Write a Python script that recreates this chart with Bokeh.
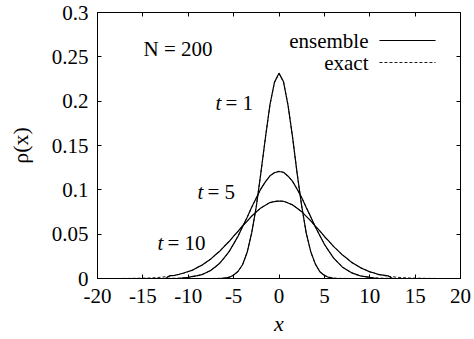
import numpy as np
from bokeh.plotting import figure
from bokeh.models import Range1d, LinearAxis, FixedTicker, Label
from bokeh.embed import file_html
from bokeh.resources import INLINE

# ---- data ----
x = np.arange(-20, 20.5, 0.5)

exact_t1 = [0.0] * 26 + [0.0001, 0.0002, 0.0006, 0.0015, 0.0036, 0.0079, 0.0161, 0.0300, 0.0515,
                         0.0815, 0.1186, 0.1588, 0.1955, 0.2216, 0.2310, 0.2216, 0.1955, 0.1588,
                         0.1186, 0.0815, 0.0515, 0.0300, 0.0161, 0.0079, 0.0036, 0.0015, 0.0006,
                         0.0002, 0.0001] + [0.0] * 26
ens_t1 = [0.0] * 27 + [0.0, 0.0004, 0.0012, 0.0040, 0.0082, 0.0158, 0.0298, 0.0520, 0.0812, 0.1190,
                       0.1585, 0.1958, 0.2212, 0.2316, 0.2218, 0.1950, 0.1592, 0.1182, 0.0818,
                       0.0512, 0.0302, 0.0165, 0.0076, 0.0034, 0.0012, 0.0003, 0.0] + [0.0] * 27

exact_t5 = [0.0] * 15 + [0.0001, 0.0002, 0.0003, 0.0005, 0.0008, 0.0013, 0.0020, 0.0030, 0.0045,
                         0.0066, 0.0094, 0.0130, 0.0177, 0.0236, 0.0306, 0.0388, 0.0482, 0.0585,
                         0.0693, 0.0804, 0.0911, 0.1009, 0.1092, 0.1156, 0.1196, 0.1210,
                         0.1196, 0.1156, 0.1092, 0.1009, 0.0911, 0.0804, 0.0693, 0.0585, 0.0482,
                         0.0388, 0.0306, 0.0236, 0.0177, 0.0130, 0.0094, 0.0066, 0.0045, 0.0030,
                         0.0020, 0.0013, 0.0008, 0.0005, 0.0003, 0.0002, 0.0001] + [0.0] * 15
ens_t5 = [0.0] * 19 + [0.0006, 0.0014, 0.0024, 0.0032, 0.0043, 0.0068, 0.0092, 0.0133, 0.0175,
                       0.0238, 0.0303, 0.0390, 0.0480, 0.0588, 0.0690, 0.0806, 0.0908, 0.1011,
                       0.1090, 0.1158, 0.1193, 0.1207,
                       0.1198, 0.1154, 0.1095, 0.1006, 0.0913, 0.0801, 0.0695, 0.0583, 0.0485,
                       0.0386, 0.0308, 0.0233, 0.0179, 0.0128, 0.0096, 0.0064, 0.0047, 0.0028,
                       0.0022, 0.0012, 0.0005] + [0.0] * 19

exact_t10 = [0.0] * 6 + [0.0001, 0.0001, 0.0002, 0.0003, 0.0004, 0.0005, 0.0007, 0.0010, 0.0014,
                         0.0020, 0.0026, 0.0035, 0.0046, 0.0060, 0.0077, 0.0097, 0.0122, 0.0151,
                         0.0184, 0.0223, 0.0266, 0.0313, 0.0364, 0.0419, 0.0476, 0.0535, 0.0593,
                         0.0649, 0.0703, 0.0752, 0.0794, 0.0828, 0.0854, 0.0870, 0.0875,
                         0.0870, 0.0854, 0.0828, 0.0794, 0.0752, 0.0703, 0.0649, 0.0593, 0.0535,
                         0.0476, 0.0419, 0.0364, 0.0313, 0.0266, 0.0223, 0.0184, 0.0151, 0.0122,
                         0.0097, 0.0077, 0.0060, 0.0046, 0.0035, 0.0026, 0.0020, 0.0014, 0.0010,
                         0.0007, 0.0005, 0.0004, 0.0003, 0.0002, 0.0001, 0.0001] + [0.0] * 6
ens_t10 = [0.0] * 16 + [0.0033, 0.0036, 0.0048, 0.0062, 0.0079, 0.0095, 0.0125, 0.0149, 0.0186,
                        0.0221, 0.0268, 0.0311, 0.0366, 0.0417, 0.0478, 0.0533, 0.0595, 0.0647,
                        0.0705, 0.0750, 0.0796, 0.0826, 0.0856, 0.0868, 0.0873,
                        0.0871, 0.0852, 0.0830, 0.0792, 0.0754, 0.0701, 0.0651, 0.0591, 0.0537,
                        0.0474, 0.0421, 0.0362, 0.0315, 0.0264, 0.0225, 0.0182, 0.0153, 0.0120,
                        0.0099, 0.0075, 0.0062, 0.0044, 0.0038, 0.0030] + [0.0] * 16

x_ticks = [-20, -15, -10, -5, 0, 5, 10, 15, 20]
x_tick_labels = ["-20", "-15", "-10", "-5", "0", "5", "10", "15", "20"]
y_ticks = [0, 0.05, 0.1, 0.15, 0.2, 0.25, 0.3]
y_tick_labels = ["0", "0.05", "0.1", "0.15", "0.2", "0.25", "0.3"]

FONT = "Liberation Serif"
FS = "21px"

p = figure(width=474, height=339, x_range=Range1d(-20, 20), y_range=Range1d(0, 0.3),
           output_backend="svg", toolbar_location=None,
           min_border_left=97, min_border_right=14, min_border_top=12, min_border_bottom=61)
p.grid.visible = False
p.outline_line_color = "black"
p.outline_line_width = 1
p.background_fill_color = "white"
p.border_fill_color = "white"

p.xaxis.ticker = FixedTicker(ticks=x_ticks)
p.xaxis.major_label_overrides = dict(zip(x_ticks, x_tick_labels))
p.yaxis.ticker = FixedTicker(ticks=y_ticks)
p.yaxis.major_label_overrides = dict(zip(y_ticks, y_tick_labels))
for ax in (p.xaxis[0], p.yaxis[0]):
    ax.major_tick_in = 4
    ax.major_tick_out = 0
    ax.minor_tick_line_color = None
    ax.axis_line_color = "black"
    ax.major_tick_line_color = "black"
    ax.major_label_text_font = FONT
    ax.major_label_text_font_size = FS
    ax.major_label_text_color = "black"
    ax.axis_label_text_font = FONT
    ax.axis_label_text_font_size = "22px"
    ax.axis_label_text_color = "black"

p.xaxis.axis_label = "x"
p.xaxis.axis_label_text_font_style = "italic"
p.xaxis.major_label_standoff = 10
p.xaxis.axis_label_standoff = 5
p.yaxis.axis_label = "ρ(x)"
p.yaxis.axis_label_text_font_style = "normal"
p.yaxis.major_label_standoff = 9
p.yaxis.axis_label_standoff = 16

top = LinearAxis(ticker=FixedTicker(ticks=x_ticks), major_label_text_font_size="0px",
                 major_label_text_alpha=0, major_tick_in=4, major_tick_out=0,
                 minor_tick_line_color=None, axis_line_color=None, major_label_standoff=0)
right = LinearAxis(ticker=FixedTicker(ticks=y_ticks), major_label_text_font_size="0px",
                   major_label_text_alpha=0, major_tick_in=4, major_tick_out=0,
                   minor_tick_line_color=None, axis_line_color=None, major_label_standoff=0)
p.add_layout(top, "above")
p.add_layout(right, "right")

for ens, ex in ((ens_t1, exact_t1), (ens_t5, exact_t5), (ens_t10, exact_t10)):
    p.line(x, ex, line_color="black", line_width=0.9, line_dash="3 2")
    p.line(x, ens, line_color="black", line_width=1.2)

def lab(xv, yv, text, style="normal", align="left"):
    p.add_layout(Label(x=xv, y=yv, text=text, text_font=FONT, text_font_size=FS,
                       text_font_style=style, text_baseline="middle", text_align=align,
                       text_color="black"))

lab(-14.93, 0.2583, "N = 200")
lab(-7.0, 0.1974, "t", "italic"); lab(-5.9, 0.1974, "= 1")
lab(-8.98, 0.097, "t", "italic"); lab(-7.88, 0.097, "= 5")
lab(-13.39, 0.0395, "t", "italic"); lab(-12.29, 0.0395, "= 10")

# legend
lab(9.86, 0.2684, "ensemble", align="right")
lab(9.86, 0.2436, "exact", align="right")
p.segment(x0=[11.07], y0=[0.2684], x1=[17.25], y1=[0.2684], line_color="black", line_width=1.2)
p.segment(x0=[11.07], y0=[0.2436], x1=[17.25], y1=[0.2436], line_color="black", line_width=0.9,
          line_dash="3 2")

open("out.html", "w").write(file_html(p, INLINE))
